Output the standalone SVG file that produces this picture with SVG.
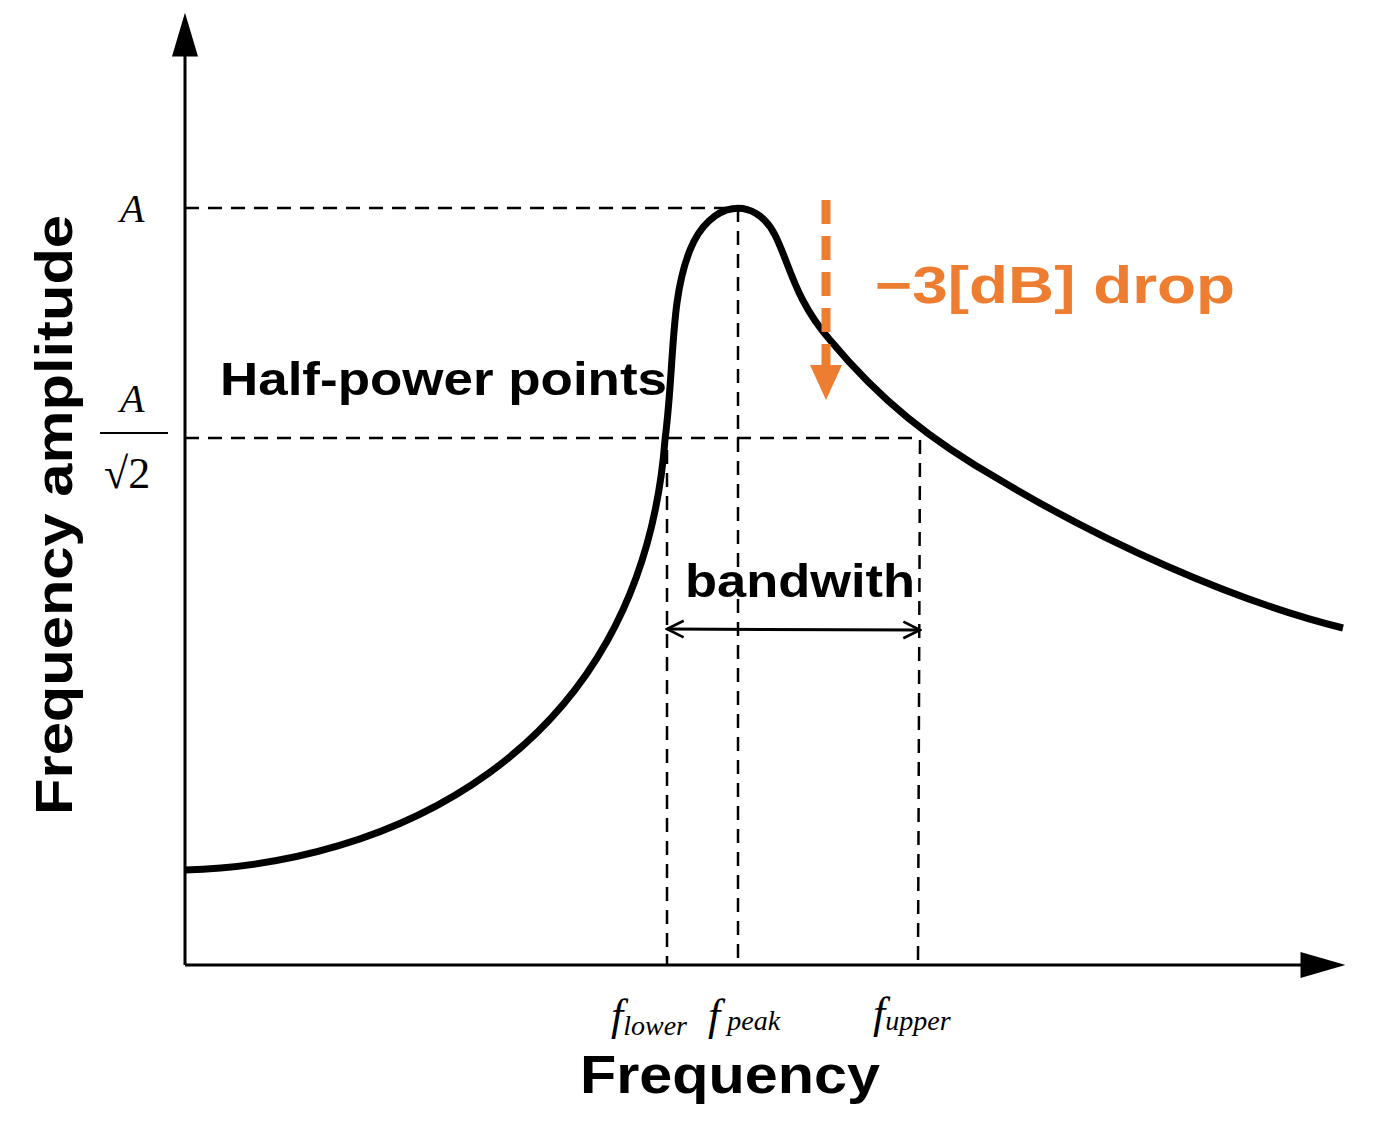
<svg xmlns="http://www.w3.org/2000/svg" width="1382" height="1121" viewBox="0 0 1382 1121">
<style>
.d{stroke:#000;stroke-width:2.5;stroke-dasharray:14 9;fill:none}
.b{font-family:"Liberation Sans",Arial,sans-serif;font-weight:bold}
.m{font-family:"Liberation Serif","Times New Roman",serif;font-style:italic}
</style>
<defs>
<marker id="oa" viewBox="0 0 12 12" refX="11" refY="6" markerWidth="20" markerHeight="20" markerUnits="userSpaceOnUse" orient="auto-start-reverse"><path d="M1,1L11,6L1,11" fill="none" stroke="#000" stroke-width="1.6"/></marker>
</defs>
<rect width="1382" height="1121" fill="#fff"/>
<g id="axes" stroke="#000" stroke-width="3">
<line x1="185" y1="965" x2="185" y2="55"/>
<path d="M185,18L174,55L196,55Z" fill="#000"/>
<line x1="185" y1="965" x2="1302" y2="965"/>
<path d="M1340,965L1302,954L1302,976Z" fill="#000"/>
</g>
<g id="guides">
<line class="d" x1="185" y1="208" x2="735" y2="208"/>
<line class="d" x1="185" y1="438" x2="920" y2="438"/>
<line class="d" x1="667" y1="450" x2="667" y2="965"/>
<line class="d" x1="738" y1="208" x2="738" y2="965"/>
<line class="d" x1="920" y1="440" x2="918" y2="965"/>
</g>
<path id="curve" d="M185,870 C380,865 640,760 665,440 C675,360 670,300 690,250 C710,200 755,195 775,235 C790,265 795,300 830,340 C880,400 930,440 1000,480 C1100,540 1230,600 1343,628" fill="none" stroke="#000" stroke-width="7"/>
<g id="drop">
<line x1="826" y1="200" x2="826" y2="368" stroke="#ED7D31" stroke-width="9" stroke-dasharray="24 12"/>
<path d="M826,400L810,365L842,365Z" fill="#ED7D31"/>
<text x="875" y="303" class="b" font-size="52" fill="#ED7D31" textLength="360" lengthAdjust="spacingAndGlyphs">−3[dB] drop</text>
</g>
<g id="bw">
<line x1="667" y1="629" x2="920" y2="630" stroke="#000" stroke-width="3" marker-start="url(#oa)" marker-end="url(#oa)"/>
<text x="685" y="597" class="b" font-size="46" textLength="230" lengthAdjust="spacingAndGlyphs">bandwith</text>
</g>
<text x="220" y="395" class="b" font-size="46" textLength="447" lengthAdjust="spacingAndGlyphs">Half-power points</text>
<text class="b" font-size="52" transform="translate(72,815) rotate(-90)" textLength="600" lengthAdjust="spacingAndGlyphs">Frequency amplitude</text>
<text x="580" y="1093" class="b" font-size="54" textLength="300" lengthAdjust="spacingAndGlyphs">Frequency</text>
<g font-size="40">
<text x="120" y="222" class="m">A</text>
<text x="120" y="412" class="m">A</text>
<line x1="100" y1="433" x2="168" y2="433" stroke="#000" stroke-width="2"/>
<text x="104" y="488" font-family="Liberation Serif,serif" font-size="44">√2</text>
<text x="611" y="1030" class="m" font-size="44">f<tspan font-size="28" dy="5">lower</tspan></text>
<text x="708" y="1030" class="m" font-size="44">f<tspan font-size="28" dy="0"> peak</tspan></text>
<text x="873" y="1028" class="m" font-size="44">f<tspan font-size="28" dy="2">upper</tspan></text>
</g>
</svg>
